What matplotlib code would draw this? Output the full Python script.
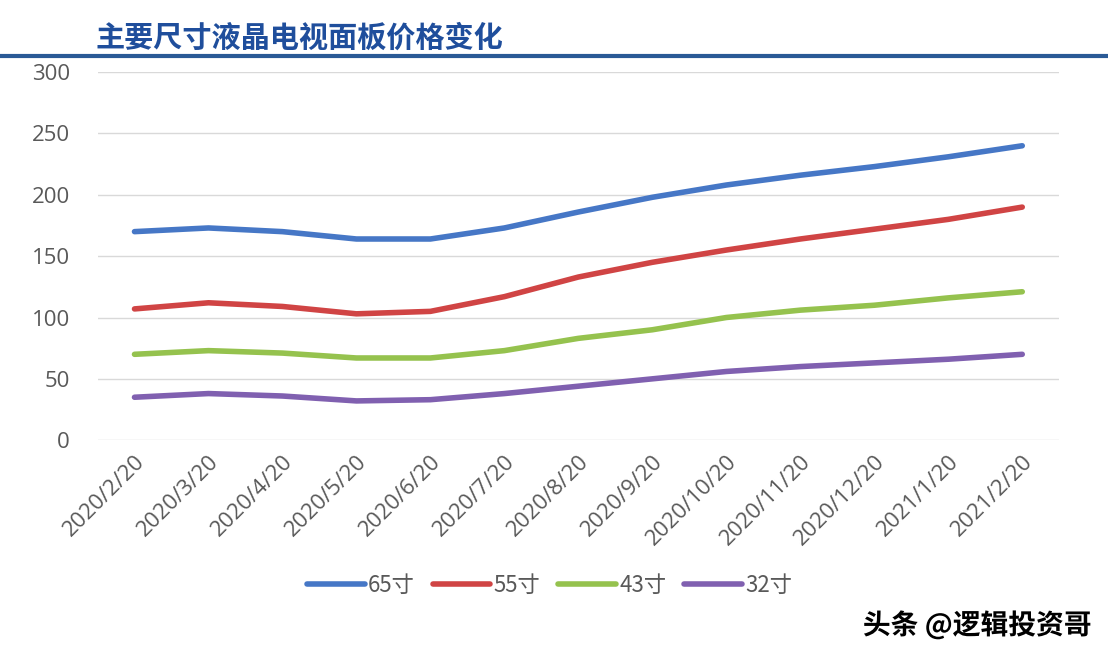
import matplotlib.pyplot as plt
import matplotlib.patheffects as pe

plt.rcParams['font.family'] = ['Noto Sans CJK SC', 'DejaVu Sans']

dates = ['2020/2/20', '2020/3/20', '2020/4/20', '2020/5/20', '2020/6/20', '2020/7/20',
         '2020/8/20', '2020/9/20', '2020/10/20', '2020/11/20', '2020/12/20', '2021/1/20', '2021/2/20']
p65 = [170, 173, 170, 164, 164, 173, 186, 198, 208, 216, 223, 231, 240]
p55 = [107, 112, 109, 103, 105, 117, 133, 145, 155, 164, 172, 180, 190]
p43 = [70, 73, 71, 67, 67, 73, 83, 90, 100, 106, 110, 116, 121]
p32 = [35, 38, 36, 32, 33, 38, 44, 50, 56, 60, 63, 66, 70]
names = ['65寸', '55寸', '43寸', '32寸']
colors = ['#4677c6', '#d04444', '#95c24e', '#8060b0']

fig = plt.figure(figsize=(11.08, 6.56), dpi=100)
ax = fig.add_axes([0.088, 0.329, 0.868, 0.561])

x = range(len(dates))
for s, n, c in zip([p65, p55, p43, p32], names, colors):
    ax.plot(x, s, color=c, lw=4, label=n, solid_capstyle='round', solid_joinstyle='round')

ax.set_ylim(0, 300)
ax.set_yticks(range(0, 301, 50))
ax.set_xlim(-0.5, 12.5)
ax.set_xticks(list(x))
ax.set_xticklabels(dates, rotation=45, ha='right', rotation_mode='anchor', fontsize=16, color='#595959',
                   family=['Open Sans', 'DejaVu Sans'])
for t in ax.get_yticklabels():
    t.set_fontsize(16)
    t.set_color('#595959')
    t.set_family(['Open Sans', 'DejaVu Sans'])
ax.tick_params(length=0, pad=20)
ax.tick_params(axis='x', pad=8)
ax.grid(axis='y', color='#d9d9d9', lw=1)
ax.set_axisbelow(True)
for sp in ax.spines.values():
    sp.set_visible(False)

leg = ax.legend(loc='upper center', bbox_to_anchor=(0.47, -0.31), ncol=4, frameon=False,
                fontsize=16, handlelength=2.6, handletextpad=0.15, columnspacing=0.8)
for t in leg.get_texts():
    t.set_color('#595959')

fig.text(0.086, 0.943, '主要尺寸液晶电视面板价格变化', fontsize=21, fontweight='bold',
         color='#1f4e9c', va='center')
fig.add_artist(plt.Line2D([0, 1], [0.915, 0.915], color='#2a5a96', lw=3))

fig.text(0.985, 0.047, '头条 @逻辑投资哥', fontsize=20, fontweight='bold', color='black', ha='right',
         va='center', path_effects=[pe.withStroke(linewidth=3, foreground='white')])

fig.savefig('out.png', dpi=100, facecolor='white')
